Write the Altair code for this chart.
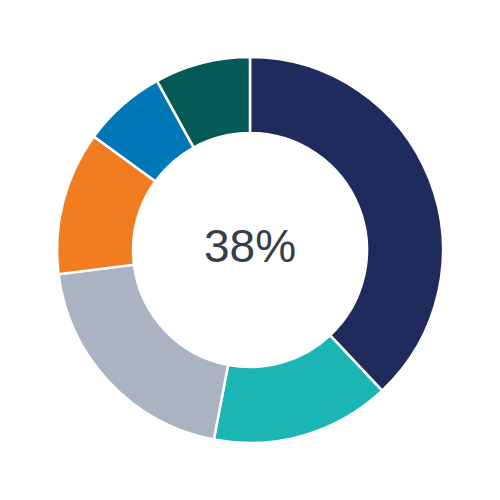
import altair as alt
import pandas as pd

# Segment data (clockwise from 12 o'clock)
categories = ["A", "B", "C", "D", "E", "F"]
shares = [38, 15, 20, 12, 7, 8]
colors = ["#1e2b5c", "#1cb5b5", "#a9b3c1", "#f27d20", "#0077b6", "#055a58"]
center_label = "38%"

df = pd.DataFrame({"category": categories, "share": shares, "order": range(len(categories))})

SIZE = 484

donut = (alt.Chart(df)
         .mark_arc(outerRadius=193, innerRadius=117, stroke="white", strokeWidth=2.5)
         .encode(
             theta=alt.Theta("share:Q", stack=True),
             order=alt.Order("order:Q"),
             color=alt.Color("category:N",
                             scale=alt.Scale(domain=categories, range=colors),
                             legend=None),
         ))

label = (alt.Chart(pd.DataFrame({"t": [center_label]}))
         .mark_text(font="Liberation Sans", fontSize=46, color="#363e47",
                    align="center", baseline="middle")
         .encode(text="t:N", x=alt.value(SIZE / 2), y=alt.value(SIZE / 2 - 2)))

chart = (alt.layer(donut, label)
         .properties(width=SIZE, height=SIZE, padding=0, autosize="none")
         .configure_view(stroke=None))

chart.save("out.html", embed_options={"renderer": "svg", "actions": False})
